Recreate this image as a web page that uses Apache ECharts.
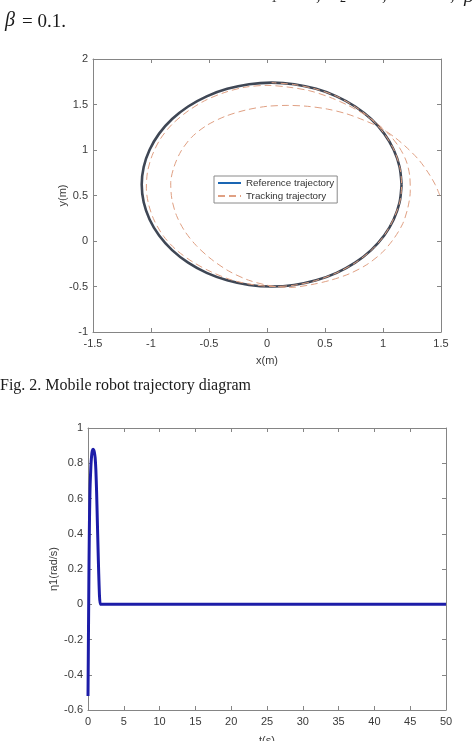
<!DOCTYPE html>
<html>
<head>
<meta charset="utf-8">
<script src="https://cdn.jsdelivr.net/npm/echarts@6/dist/echarts.min.js"></script>
<style>html,body{margin:0;padding:0;background:#fff;}#c{width:474px;height:741px;}</style>
</head>
<body>
<div id="c"></div>
<script>
// ---- Top chart: trajectory (x(m), y(m)) ----
const xTicksTop = [-1.5, -1, -0.5, 0, 0.5, 1, 1.5];
const yTicksTop = [-1, -0.5, 0, 0.5, 1, 1.5, 2];
const refX = [1.16, 1.143, 1.092, 1.010, 0.898, 0.760, 0.600, 0.423, 0.234, 0.04, -0.154, -0.343, -0.520, -0.680, -0.818, -0.930, -1.012, -1.063, -1.08, -1.063, -1.012, -0.930, -0.818, -0.680, -0.520, -0.343, -0.154, 0.04, 0.234, 0.423, 0.600, 0.760, 0.898, 1.010, 1.092, 1.143, 1.16];
const refY = [0.62, 0.814, 1.003, 1.180, 1.340, 1.478, 1.590, 1.672, 1.723, 1.74, 1.723, 1.672, 1.590, 1.478, 1.340, 1.180, 1.003, 0.814, 0.62, 0.426, 0.237, 0.060, -0.100, -0.238, -0.350, -0.432, -0.483, -0.50, -0.483, -0.432, -0.350, -0.238, -0.100, 0.060, 0.237, 0.426, 0.62];
const trackX = [1.49, 1.45, 1.39, 1.31, 1.21, 1.10, 0.97, 0.83, 0.68, 0.52, 0.35, 0.18, 0.00, -0.18, -0.36, -0.52, -0.65, -0.74, -0.80, -0.83, -0.82, -0.78, -0.71, -0.61, -0.48, -0.33, -0.16, 0.02,
  0.20, 0.38, 0.55, 0.71, 0.86, 0.99, 1.09, 1.17, 1.215, 1.235, 1.23, 1.20, 1.14, 1.06, 0.96,
  0.84, 0.70, 0.54, 0.37, 0.19, 0.00, -0.19, -0.37, -0.54, -0.69, -0.82, -0.92, -0.99, -1.03, -1.04, -1.02, -0.97, -0.89, -0.78, -0.64, -0.48, -0.30, -0.12, 0.06, 0.24, 0.42, 0.60, 0.76, 0.90, 1.01, 1.09, 1.145, 1.16, 1.145, 1.095, 1.01, 0.90, 0.76, 0.60, 0.42, 0.23, 0.04];
const trackY = [0.50, 0.62, 0.75, 0.89, 1.02, 1.14, 1.25, 1.33, 1.40, 1.45, 1.48, 1.49, 1.48, 1.44, 1.37, 1.27, 1.14, 0.99, 0.82, 0.64, 0.46, 0.28, 0.11, -0.05, -0.20, -0.33, -0.43, -0.49,
  -0.51, -0.48, -0.43, -0.36, -0.26, -0.13, 0.02, 0.19, 0.37, 0.55, 0.72, 0.88, 1.03, 1.16, 1.28,
  1.39, 1.49, 1.58, 1.65, 1.69, 1.71, 1.69, 1.63, 1.54, 1.42, 1.28, 1.12, 0.94, 0.76, 0.58, 0.40, 0.22, 0.05, -0.10, -0.23, -0.34, -0.43, -0.48, -0.50, -0.485, -0.435, -0.35, -0.24, -0.10, 0.06, 0.24, 0.43, 0.62, 0.81, 1.00, 1.18, 1.34, 1.475, 1.59, 1.67, 1.72, 1.74];

// ---- Bottom chart: eta1 (rad/s) vs t(s) ----
const xTicksBot = [0, 5, 10, 15, 20, 25, 30, 35, 40, 45, 50];
const yTicksBot = [-0.6, -0.4, -0.2, 0, 0.2, 0.4, 0.6, 0.8, 1];
const tTime = [0, 0.05, 0.1, 0.15, 0.2, 0.25, 0.3, 0.4, 0.5, 0.6, 0.7, 0.8, 0.9, 1.0, 1.1, 1.2, 1.3, 1.4, 1.5, 1.6, 1.7, 1.8, 50];
const eta1 = [-0.52, -0.25, 0.02, 0.27, 0.46, 0.59, 0.68, 0.78, 0.84, 0.87, 0.88, 0.875, 0.86, 0.83, 0.76, 0.64, 0.48, 0.32, 0.17, 0.05, 0.0, 0.0, 0.0];

const seriesNames = ['Reference trajectory', 'Tracking trajectory'];

const pair = (xs, ys) => xs.map((x, i) => [x, ys[i]]);
const FONT = 'Liberation Sans, Arial, Helvetica, sans-serif';
const SERIF = '"Liberation Serif", "Times New Roman", serif';
const boxColor = '#858585';
const textColor = '#3a3a3a';
const fmt = v => String(parseFloat(Number(v).toFixed(2)));

function mkAxis(grid, ticks, pos, opts) {
  const main = (pos === 'bottom' || pos === 'left');
  return Object.assign({
    gridIndex: grid,
    type: 'value',
    position: pos,
    min: ticks[0],
    max: ticks[ticks.length - 1],
    interval: ticks[1] - ticks[0],
    nameMoveOverlap: false,
    axisLine: { show: true, onZero: false, lineStyle: { color: boxColor, width: 1 } },
    axisTick: { show: true, inside: true, length: 4, lineStyle: { color: boxColor } },
    axisLabel: { show: main, margin: (pos === 'left' ? 5 : 6), color: textColor, fontSize: 11, fontFamily: FONT, formatter: fmt },
    splitLine: { show: false }
  }, opts || {});
}
const nameStyle = { color: textColor, fontSize: 11, fontFamily: FONT };

const chart = echarts.init(document.getElementById('c'), null, { renderer: 'canvas' });
chart.setOption({
  animation: false,
  backgroundColor: '#ffffff',
  grid: [
    { left: 93, top: 59, width: 348, height: 273, outerBoundsMode: 'none', containLabel: false },
    { left: 88, top: 428, width: 358, height: 282, outerBoundsMode: 'none', containLabel: false }
  ],
  xAxis: [
    mkAxis(0, xTicksTop, 'bottom', { name: 'x(m)', nameLocation: 'middle', nameGap: 23, nameTextStyle: nameStyle }),
    mkAxis(0, xTicksTop, 'top'),
    mkAxis(1, xTicksBot, 'bottom', { name: 't(s)', nameLocation: 'middle', nameGap: 25, nameTextStyle: nameStyle }),
    mkAxis(1, xTicksBot, 'top')
  ],
  yAxis: [
    mkAxis(0, yTicksTop, 'left', { name: 'y(m)', nameLocation: 'middle', nameGap: 25, nameTextStyle: nameStyle }),
    mkAxis(0, yTicksTop, 'right'),
    mkAxis(1, yTicksBot, 'left', { name: 'η1(rad/s)', nameLocation: 'middle', nameGap: 29, nameTextStyle: nameStyle }),
    mkAxis(1, yTicksBot, 'right')
  ],
  legend: {
    orient: 'vertical',
    left: 214,
    top: 176,
    padding: [2, 3, 2, 3],
    itemGap: 3,
    itemWidth: 23,
    itemHeight: 10,
    backgroundColor: '#ffffff',
    borderColor: '#8a8a8a',
    borderWidth: 1,
    borderRadius: 0,
    textStyle: { color: '#333', fontSize: 9.8, fontFamily: FONT },
    data: [
      { name: seriesNames[0], lineStyle: { color: '#1a66b3', width: 2 }, itemStyle: { opacity: 0 } },
      { name: seriesNames[1], itemStyle: { opacity: 0 } }
    ]
  },
  series: [
    {
      name: seriesNames[0], type: 'line', xAxisIndex: 0, yAxisIndex: 0,
      data: pair(refX, refY), symbol: 'none', smooth: 0.3, clip: true,
      lineStyle: { color: '#3f4755', width: 2.6 }, itemStyle: { color: '#1a66b3' }, z: 2
    },
    {
      name: seriesNames[1], type: 'line', xAxisIndex: 0, yAxisIndex: 0,
      data: pair(trackX, trackY), symbol: 'none', smooth: 0.3, clip: true,
      lineStyle: { color: '#e0a083', width: 1, type: [7, 4] }, itemStyle: { color: '#e0a083' }, z: 3
    },
    {
      name: 'eta1', type: 'line', xAxisIndex: 2, yAxisIndex: 2,
      data: pair(tTime, eta1), symbol: 'none', smooth: 0.2, clip: true,
      lineStyle: { color: '#1c1ca8', width: 3 }, z: 2
    }
  ],
  graphic: [
    // fragments of the cut-off text line above the figure
    { type: 'text', x: 271, y: -7, style: { text: '1', font: '12px ' + SERIF, fill: '#1a1a1a' } },
    { type: 'text', x: 340, y: -7, style: { text: '2', font: '12px ' + SERIF, fill: '#1a1a1a' } },
    { type: 'text', x: 316, y: -14, style: { text: ',', font: '19px ' + SERIF, fill: '#1a1a1a' } },
    { type: 'text', x: 382, y: -14, style: { text: ',', font: '19px ' + SERIF, fill: '#1a1a1a' } },
    { type: 'text', x: 450, y: -14, style: { text: ',', font: '19px ' + SERIF, fill: '#1a1a1a' } },
    { type: 'text', x: 464, y: -13, style: { text: 'β', font: 'italic 19px ' + SERIF, fill: '#1a1a1a' } },
    // β = 0.1.
    { type: 'text', left: 5, top: 11, style: { text: 'β', font: 'italic 20px ' + SERIF, fill: '#1a1a1a' } },
    { type: 'text', left: 22, top: 13, style: { text: '= 0.1.', font: '19px ' + SERIF, fill: '#1a1a1a' } },
    // caption
    { type: 'text', left: 0, top: 378, style: { text: 'Fig. 2. Mobile robot trajectory diagram', font: '16px ' + SERIF, fill: '#1a1a1a' } }
  ]
});
</script>
</body>
</html>
